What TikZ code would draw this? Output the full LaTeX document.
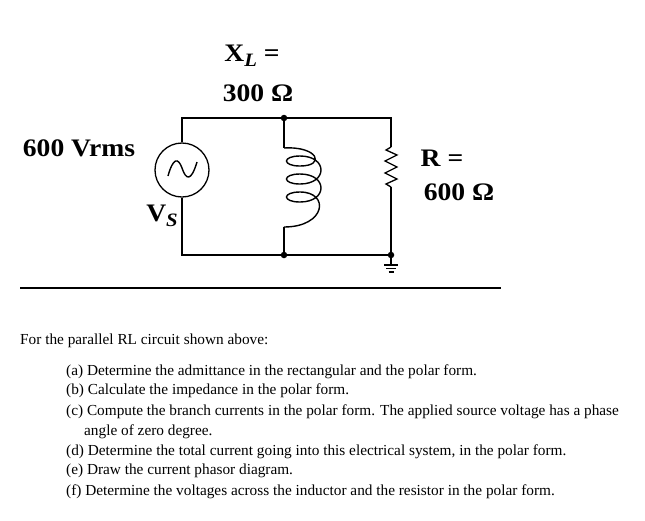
\documentclass[tikz,border=0pt]{standalone}
\usepackage{fontspec}
\setmainfont{Liberation Serif}
\newcommand{\wide}[1]{\scalebox{1.15}[1.05]{#1}}
\begin{document}
\begin{tikzpicture}[x=1pt,y=-1pt,
  wire/.style={line width=1.4pt},
  dot/.style={circle,fill,inner sep=2.3pt},
  big/.style={font=\fontsize{24}{26}\selectfont\bfseries,inner sep=0pt},
  txt/.style={font=\fontsize{15.3}{17}\selectfont,anchor=west,inner sep=0pt}]
\useasboundingbox (0,0) rectangle (645,520);
\coordinate (tl) at (182,118); \coordinate (bl) at (182,255);
\node[dot] (tm) at (284,118) {}; \node[dot] (bm) at (284,255) {};
\coordinate (tr) at (391,118); \node[dot] (br) at (391,255) {};
\node[draw,circle,line width=1.3pt,minimum size=54pt,inner sep=0pt] (src) at (182,170) {};
\draw[line width=1.4pt] (168,176) .. controls (173,158) and (178,157) .. (182,168) .. controls (186,180) and (191,182) .. (197,162);
\draw[wire] (src.north) -- (tl) -- (tr) -- (391,147);
\draw[wire] (src.south) -- (bl) -- (br) -- (391,187);
\draw[wire] (tm) -- (284,148);
\draw[wire] (284,227) -- (bm);
% inductor coil
\draw[line width=1.4pt] (284,148) .. controls (318,146) and (326,166) .. (300,166)
  .. controls (282,166) and (282,156) .. (300,156) .. controls (328,156) and (328,184) .. (300,184)
  .. controls (282,184) and (282,174) .. (300,174) .. controls (328,174) and (328,202) .. (300,202)
  .. controls (282,202) and (282,192) .. (300,192) .. controls (330,192) and (326,227) .. (284,227);
% resistor
\draw[line width=1.3pt] (391,147) -- (386,150) -- (397,155) -- (385,161) -- (397,167) -- (385,173) -- (397,179) -- (386,184) -- (391,187);
% ground
\draw[wire] (br) -- (391,265);
\draw[line width=1.3pt] (384,265) -- (398,265) (386,268.5) -- (396,268.5) (388.5,272) -- (393.5,272);
\draw[line width=1.4pt] (20,288) -- (501,288);
\node[big] (xl) at (252,56) {\wide{X\raisebox{-0.45ex}{\fontsize{18}{18}\selectfont\itshape L} =}};
\node[big] (xv) at (258,93) {\wide{300 Ω}};
\node[big] (vr) at (79,148) {\wide{600 Vrms}};
\node[big] (vs) at (162,216) {\wide{V\raisebox{-0.45ex}{\fontsize{18}{18}\selectfont\itshape S}}};
\node[big] (r) at (442,158) {\wide{R =}};
\node[big] (rv) at (459,192) {\wide{600 Ω}};
\node[txt] (p0) at (20,341) {For the parallel RL circuit shown above:};
\node[txt] (pa) at (66,372) {(a) Determine the admittance in the rectangular and the polar form.};
\node[txt] (pb) at (66,391) {(b) Calculate the impedance in the polar form.};
\node[txt] (pc) at (66,412) {(c) Compute the branch currents in the polar form. The applied source voltage has a phase};
\node[txt] (pc2) at (84,432) {angle of zero degree.};
\node[txt] (pd) at (66,452) {(d) Determine the total current going into this electrical system, in the polar form.};
\node[txt] (pe) at (66,471) {(e) Draw the current phasor diagram.};
\node[txt] (pf) at (66,492) {(f) Determine the voltages across the inductor and the resistor in the polar form.};
\end{tikzpicture}
\end{document}
